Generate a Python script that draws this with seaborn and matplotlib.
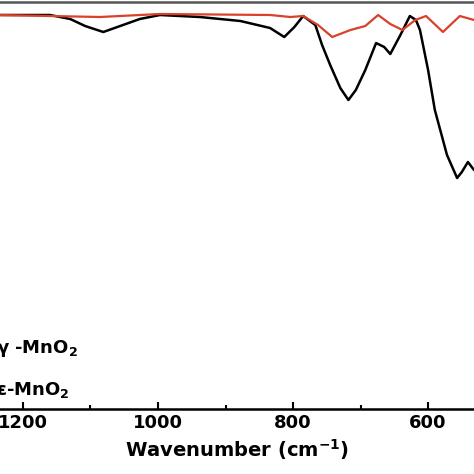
import matplotlib
matplotlib.use("Agg")
import matplotlib.pyplot as plt
import seaborn as sns
import pandas as pd

# wavenumber (cm-1) and signal (arbitrary units, larger = lower on the plot)
gamma_wn = [1234, 1160, 1130, 1108, 1081, 1056, 1027, 997, 938, 878, 834, 813, 798, 785,
            767, 757, 745, 730, 718, 707, 693, 677, 665, 656, 641, 627, 618, 612, 600,
            590, 572, 557, 550, 541, 532]
gamma_y = [15, 15, 19, 26, 32, 26, 19, 15, 17, 21, 28, 37, 27, 16,
           25, 45, 65, 88, 100, 90, 70, 43, 47, 54, 35, 16, 20, 30, 70,
           110, 155, 178, 172, 162, 170]
eps_wn = [1234, 1086, 997, 834, 804, 785, 763, 742, 715, 693, 674, 656, 638, 619, 603,
          578, 553, 532]
eps_y = [15, 17, 14, 15, 17, 16, 25, 37, 30, 26, 15, 24, 30, 20, 16, 32, 16, 20]

sns.set_style("ticks")
plt.rcParams['font.family'] = ['DejaVu Sans']
plt.rcParams['text.color'] = 'black'
plt.rcParams['xtick.color'] = 'black'
plt.rcParams['axes.labelcolor'] = 'black'

fig = plt.figure(figsize=(4.74, 4.74), dpi=100)
ax = fig.add_axes([0.0, 1 - 409 / 474, 1.0, 407 / 474])

sns.lineplot(data=pd.DataFrame({"wn": gamma_wn, "y": gamma_y}), x="wn", y="y",
             color="black", lw=1.8, ax=ax, sort=False)
sns.lineplot(data=pd.DataFrame({"wn": eps_wn, "y": eps_y}), x="wn", y="y",
             color="#d9412a", lw=1.6, ax=ax, sort=False)

ax.set_xlim(1234, 532)
ax.set_ylim(409, 2)
ax.set_xticks([1200, 1000, 800, 600])
ax.set_xticks([1100, 900, 700], minor=True)
ax.set_yticks([])
ax.set_ylabel("")
ax.tick_params(axis="x", which="both", direction="in", width=1.5, labelsize=13)
ax.tick_params(axis="x", which="major", length=5)
ax.tick_params(axis="x", which="minor", length=3)
for t in ax.get_xticklabels():
    t.set_fontweight("bold")
for s in ax.spines.values():
    s.set_linewidth(1.8)
    s.set_color("black")
ax.spines["left"].set_visible(False)
ax.spines["right"].set_visible(False)
ax.spines["top"].set_color("#555555")
ax.set_xlabel("Wavenumber (cm$^{\\mathbf{-1}}$)", fontsize=14, fontweight="bold")

ax.text(1240, 348, "γ -MnO$_\\mathbf{2}$", fontsize=13, fontweight="bold", va="center")
ax.text(1240, 390, "ε-MnO$_\\mathbf{2}$", fontsize=13, fontweight="bold", va="center")

fig.savefig("out.png", dpi=100)
